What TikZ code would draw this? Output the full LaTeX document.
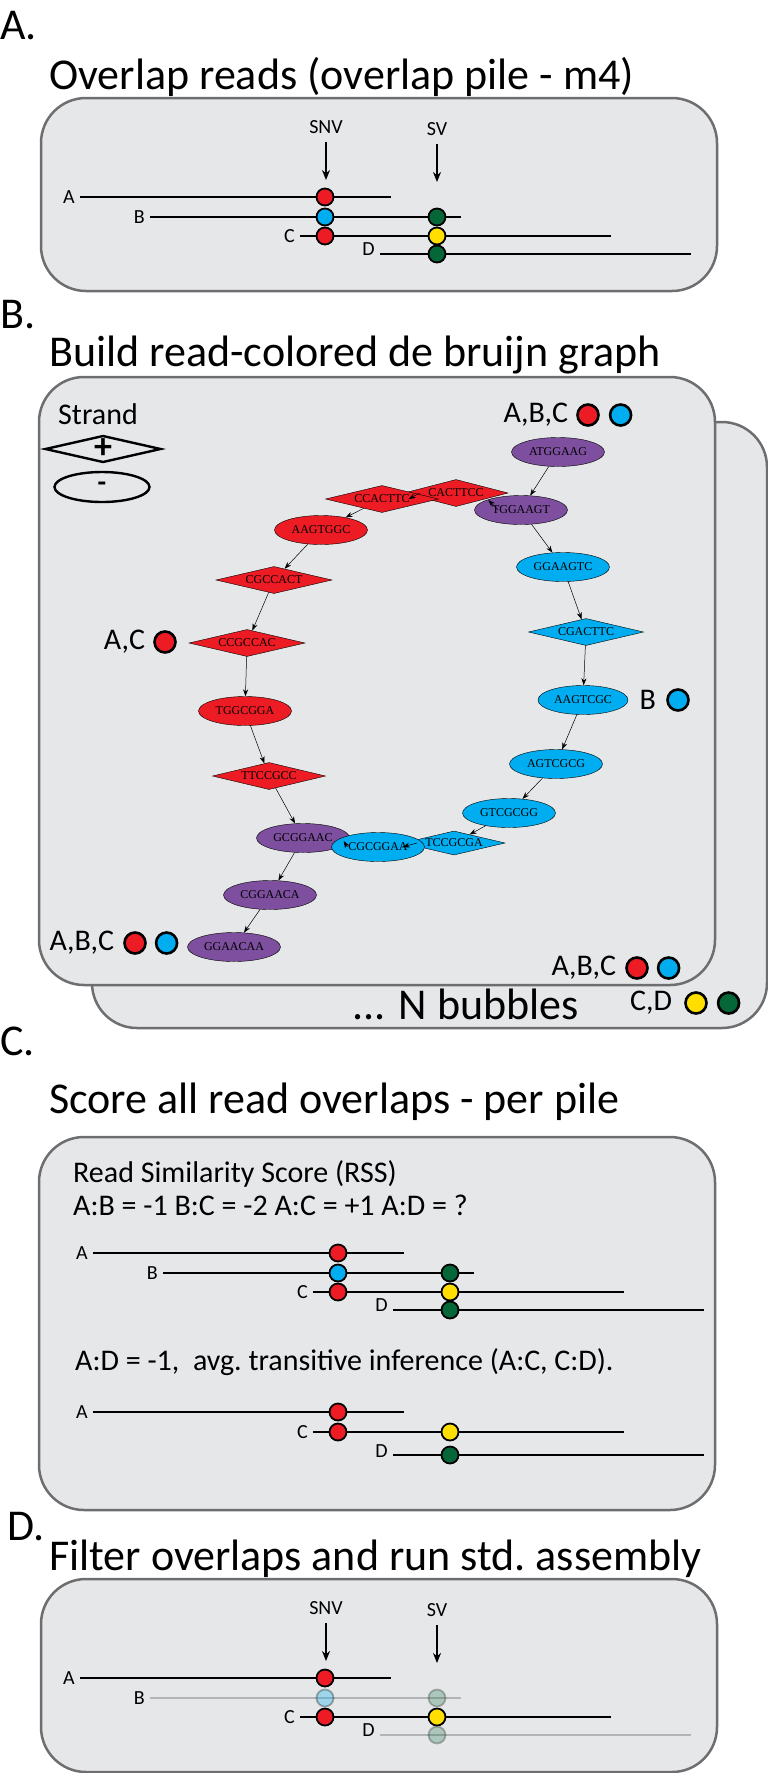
\documentclass[tikz,border=0pt]{standalone}
\usepackage{fontspec}
\setmainfont{Carlito}
\newfontfamily\seqfont{Liberation Serif}
\usetikzlibrary{arrows.meta}
\usetikzlibrary{positioning}
\usetikzlibrary{shapes.geometric}
\definecolor{rred}{rgb}{0.93, 0.11, 0.14}
\definecolor{rblue}{rgb}{0.0, 0.68, 0.94}
\definecolor{rpurple}{rgb}{0.49, 0.31, 0.62}
\definecolor{ryellow}{rgb}{1.0, 0.87, 0.0}
\definecolor{rgreen}{rgb}{0.02, 0.40, 0.22}
\definecolor{pback}{rgb}{0.90, 0.906, 0.91}
\definecolor{pframe}{rgb}{0.43, 0.43, 0.44}
\tikzset{panel/.style = {draw = pframe, line width = 2.5, fill = pback, rounded corners = 45}}
\tikzset{heading/.style = {anchor = base west, inner sep = 0, font = \fontsize{44}{50}\selectfont}}
\tikzset{note/.style = {anchor = base west, inner sep = 0, font = \fontsize{30}{34}\selectfont}}
\tikzset{read/.style = {line width = 2.6}}
\tikzset{snp/.style = {draw, circle, line width = 1.8, minimum size = 17, inner sep = 0}}
\tikzset{readlab/.style = {anchor = east, inner sep = 0, font = \fontsize{20}{24}\selectfont}}
\tikzset{varlab/.style = {inner sep = 0, font = \fontsize{20}{24}\selectfont}}
\tikzset{var/.style = {line width = 1.6, -{Stealth[length = 10, width = 8]}}}
\tikzset{kmer/.style = {ellipse, draw, line width = 0.4, minimum width = 93, minimum height = 29, inner sep = 0, font = \seqfont\fontsize{12}{13}\selectfont}}
\tikzset{rkmer/.style = {diamond, aspect = 4, draw, line width = 0.4, minimum width = 113, minimum height = 27, inner sep = 0, font = \seqfont\fontsize{12}{13}\selectfont}}
\tikzset{link/.style = {line width = 0.5, -{Stealth[length = 7, width = 5]}}}
\tikzset{chip/.style = {draw, circle, line width = 2.6, minimum size = 21, inner sep = 0}}
\tikzset{chiplab/.style = {inner sep = 0, font = \fontsize{30}{34}\selectfont}}
\begin{document}
\begin{tikzpicture}[x = 1pt, y = -1pt]
    \useasboundingbox (0, 0) rectangle (768, 1773);

    % A
    \node [heading] (la) at (0, 39) {A.};
    \node [heading] (ta) at (49, 89) {Overlap reads (overlap pile - m4)};
    \draw [panel] (41, 98) rectangle (717, 291);

    \node [varlab] (asnv) at (326, 127) {SNV};
    \node [varlab] (asv) at (437, 129) {SV};
    \coordinate (asnvtip) at (326, 180);
    \coordinate (asvtip) at (437, 182);
    \draw [var] ([yshift = -8]asnv.south) -- (asnvtip);
    \draw [var] ([yshift = -8]asv.south) -- (asvtip);

    \foreach \r/\xa/\xb/\y/\ly in {A/80/391/197/197, B/150/461/217/217, C/300/611/236/236, D/380/691/254/249} {
      \coordinate (a\r0) at (\xa, \y);
      \coordinate (a\r1) at (\xb, \y);
      \node [readlab] (a\r) at (\xa - 5, \ly) {\r};
      \draw [read] (a\r0) -- (a\r1);
    }
    \foreach \n/\x/\y/\c in {A1/325/197/rred, B1/325/217/rblue, B2/437/217/rgreen, C1/325/236/rred, C2/437/236/ryellow, D2/437/254/rgreen}
      \node [snp, fill = \c] (a\n) at (\x, \y) {};

    % B
    \node [heading] (lb) at (0, 328) {B.};
    \node [heading] (tb) at (49, 366) {Build read-colored de bruijn graph};
    \draw [panel] (92, 422) rectangle (767, 1028);
    \draw [panel] (39, 377) rectangle (715, 985);

    \node [note] (strand) at (58, 424) {Strand};
    \node [diamond, aspect = 4.3, draw, line width = 2.4, minimum width = 116, minimum height = 27, inner sep = 0, font = \bfseries\fontsize{36}{36}\selectfont] (fwd) at (103, 449) {+};
    \node [ellipse, draw, line width = 2.4, minimum width = 95, minimum height = 30, inner sep = 0, font = \bfseries\fontsize{28}{28}\selectfont] (rev) at (102, 487) {-};

    \node [kmer, fill = rpurple] (atg) at (558, 452) {ATGGAAG};
    \node [rkmer, fill = rred, minimum width = 104] (cac) at (456, 493) {CACTTCC};
    \node [kmer, fill = rpurple] (tgg) at (521, 510) {TGGAAGT};
    \node [rkmer, fill = rred] (cca) at (382, 499) {CCACTTC};
    \node [kmer, fill = rred] (aag) at (321, 530) {AAGTGGC};
    \node [rkmer, fill = rred, minimum width = 116] (cgcc) at (274, 580) {CGCCACT};
    \node [rkmer, fill = rred, minimum width = 116] (ccg) at (247, 643) {CCGCCAC};
    \node [kmer, fill = rred] (tggc) at (245, 711) {TGGCGGA};
    \node [rkmer, fill = rred] (ttc) at (269, 776) {TTCCGCC};
    \node [kmer, fill = rpurple] (gcg) at (303, 838) {GCGGAAC};
    \node [rkmer, fill = rblue, minimum width = 102, minimum height = 24] (tcc) at (454, 843) {TCCGCGA};
    \node [kmer, fill = rblue] (cgcg) at (378, 847) {CGCGGAA};
    \node [kmer, fill = rpurple] (cgg) at (270, 895) {CGGAACA};
    \node [kmer, fill = rpurple] (gga) at (234, 947) {GGAACAA};
    \node [kmer, fill = rblue] (ggaa) at (563, 567) {GGAAGTC};
    \node [rkmer, fill = rblue, minimum width = 115] (cga) at (586, 632) {CGACTTC};
    \node [kmer, fill = rblue, minimum width = 90] (aagt) at (583, 700) {AAGTCGC};
    \node [kmer, fill = rblue] (agt) at (556, 764) {AGTCGCG};
    \node [kmer, fill = rblue] (gtc) at (509, 813) {GTCGCGG};

    \foreach \a/\b in {atg/tgg, cca/aag, aag/cgcc, cgcc/ccg, ccg/tggc, tggc/ttc, ttc/gcg, gcg/cgg, cgg/gga, tgg/ggaa, ggaa/cga, cga/aagt, aagt/agt, agt/gtc, gtc/tcc}
      \draw [link] (\a) -- (\b);
    \draw [link] ([xshift = 24]tgg.west) -- ([xshift = -20, yshift = -7]cac.east);
    \draw [link] ([xshift = 16]cac.west) -- ([xshift = -30]cca.east);
    \draw [link] ([xshift = 14]tcc.west) -- ([xshift = -22]cgcg.east);
    \draw [link] ([xshift = 16]cgcg.west) -- ([xshift = -6, yshift = -3]gcg.east);

    \node [chip, fill = rred] (k1r) at (588, 415) {};
    \node [chip, fill = rblue, right = 9pt of k1r] (k1b) {};
    \node [chiplab, left = 8pt of k1r] (k1) {A,B,C};
    \node [chip, fill = rred] (k2r) at (165, 642) {};
    \node [chiplab, left = 8pt of k2r] (k2) {A,C};
    \node [chip, fill = rblue] (k3b) at (678, 700) {};
    \node [chiplab, left = 10pt of k3b] (k3) {B};
    \node [chip, fill = rred] (k4r) at (135, 943) {};
    \node [chip, fill = rblue, right = 8pt of k4r] (k4b) {};
    \node [chiplab, left = 9pt of k4r] (k4) {A,B,C};
    \node [chip, fill = rred] (k5r) at (637, 968) {};
    \node [chip, fill = rblue, right = 8pt of k5r] (k5b) {};
    \node [chiplab, left = 9pt of k5r] (k5) {A,B,C};
    \node [chip, fill = ryellow] (k6y) at (696, 1003) {};
    \node [chip, fill = rgreen, right = 9pt of k6y] (k6g) {};
    \node [chiplab, left = 12pt of k6y] (k6) {C,D};
    \node [heading] (nb) at (352, 1019) {... N bubbles};

    % C
    \node [heading] (lc) at (0, 1055) {C.};
    \node [heading] (tc) at (49, 1113) {Score all read overlaps - per pile};
    \draw [panel] (39, 1137) rectangle (715, 1510);
    \node [note] (rss) at (73, 1182) {Read Similarity Score (RSS)};
    \node [note] (pairs) at (73, 1215) {A:B = -1 B:C = -2 A:C = +1 A:D = ?};
    \node [note] (infer) at (75, 1370) {A:D = -1,\ \ avg.\ transitive inference (A:C, C:D).};

    \begin{scope}[shift = {(13, 1056)}]
      \foreach \r/\xa/\xb/\y/\ly in {A/80/391/197/197, B/150/461/217/217, C/300/611/236/236, D/380/691/254/249} {
        \coordinate (c\r0) at (\xa, \y);
        \coordinate (c\r1) at (\xb, \y);
        \node [readlab] (c\r) at (\xa - 5, \ly) {\r};
        \draw [read] (c\r0) -- (c\r1);
      }
      \foreach \n/\x/\y/\c in {A1/325/197/rred, B1/325/217/rblue, B2/437/217/rgreen, C1/325/236/rred, C2/437/236/ryellow, D2/437/254/rgreen}
        \node [snp, fill = \c] (c\n) at (\x, \y) {};
    \end{scope}

    \begin{scope}[shift = {(13, 0)}]
      \foreach \r/\xa/\xb/\y/\ly in {A/80/391/1412/1412, C/300/611/1432/1432, D/380/691/1455/1451} {
        \coordinate (e\r0) at (\xa, \y);
        \coordinate (e\r1) at (\xb, \y);
        \node [readlab] (e\r) at (\xa - 5, \ly) {\r};
        \draw [read] (e\r0) -- (e\r1);
      }
      \foreach \n/\x/\y/\c in {A1/325/1412/rred, C1/325/1432/rred, C2/437/1432/ryellow, D2/437/1455/rgreen}
        \node [snp, fill = \c] (e\n) at (\x, \y) {};
    \end{scope}

    % D
    \node [heading] (ld) at (7, 1540) {D.};
    \node [heading] (td) at (49, 1570) {Filter overlaps and run std.\ assembly};
    \draw [panel] (41, 1579) rectangle (717, 1772);

    \begin{scope}[shift = {(0, 1481)}]
      \node [varlab] (dsnv) at (326, 127) {SNV};
      \node [varlab] (dsv) at (437, 129) {SV};
      \coordinate (dsnvtip) at (326, 180);
      \coordinate (dsvtip) at (437, 182);
      \draw [var] ([yshift = -8]dsnv.south) -- (dsnvtip);
      \draw [var] ([yshift = -8]dsv.south) -- (dsvtip);

      \foreach \r/\xa/\xb/\y/\ly/\o in {A/80/391/197/197/1, B/150/461/217/217/0.22, C/300/611/236/236/1, D/380/691/254/249/0.22} {
        \coordinate (d\r0) at (\xa, \y);
        \coordinate (d\r1) at (\xb, \y);
        \node [readlab] (d\r) at (\xa - 5, \ly) {\r};
        \draw [read, opacity = \o] (d\r0) -- (d\r1);
      }
      \foreach \n/\x/\y/\c/\o in {A1/325/197/rred/1, B1/325/217/rblue/0.3, B2/437/217/rgreen/0.25, C1/325/236/rred/1, C2/437/236/ryellow/1, D2/437/254/rgreen/0.25}
        \node [snp, fill = \c, opacity = \o] (d\n) at (\x, \y) {};
    \end{scope}
\end{tikzpicture}
\end{document}
